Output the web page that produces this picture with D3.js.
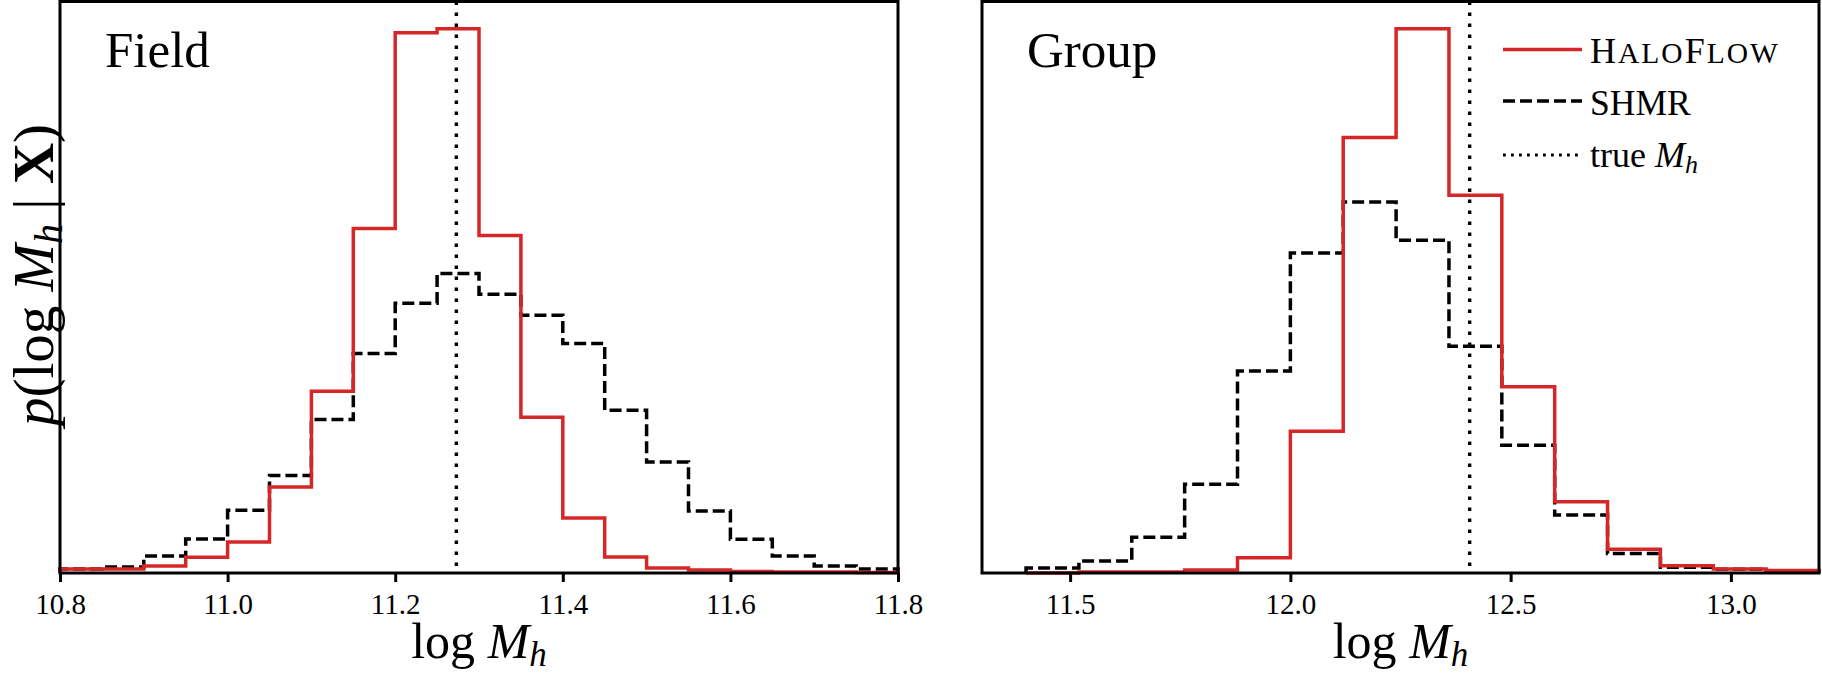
<!DOCTYPE html>
<html>
<head>
<meta charset="utf-8">
<script src="https://cdn.jsdelivr.net/npm/d3@7"></script>
<style>
  body { margin: 0; background: #fff; }
  text { font-family: "Liberation Serif", "DejaVu Serif", serif; fill: #000; }
</style>
</head>
<body>
<div id="chart"></div>
<script>
// bin edges and heights (normalised densities)
var fieldEdges = [10.80, 10.85, 10.90, 10.95, 11.00, 11.05, 11.10, 11.15, 11.20, 11.25, 11.30,
                  11.35, 11.40, 11.45, 11.50, 11.55, 11.60, 11.65, 11.70, 11.75, 11.80]
var fieldHaloFlow = [0.034, 0.034, 0.060, 0.134, 0.265, 0.735, 1.556, 2.949, 4.624, 4.658,
                     2.889, 1.333, 0.470, 0.137, 0.043, 0.026, 0.013, 0.009, 0.009, 0.004]
var fieldSHMR = [0.034, 0.051, 0.145, 0.291, 0.536, 0.835, 1.314, 1.878, 2.308, 2.564,
                 2.385, 2.205, 1.963, 1.393, 0.949, 0.530, 0.288, 0.145, 0.060, 0.034]
var fieldTrue = 11.273
var fieldTicks = [10.8, 11.0, 11.2, 11.4, 11.6, 11.8]

var groupEdges = [11.40, 11.52, 11.64, 11.76, 11.88, 12.00, 12.12, 12.24, 12.36, 12.48,
                  12.60, 12.72, 12.84, 12.96, 13.08, 13.20]
var groupHaloFlow = [0, 0.005, 0.005, 0.014, 0.070, 0.651, 1.999, 2.499, 1.734, 0.855,
                     0.327, 0.109, 0.033, 0.018, 0.011]
var groupSHMR = [0.023, 0.055, 0.164, 0.408, 0.928, 1.469, 1.703, 1.528, 1.041, 0.587,
                 0.266, 0.090, 0.026, 0.017, 0.009]
var groupTrue = 12.407
var groupTicks = [11.5, 12.0, 12.5, 13.0]

var panels = [
    { name: "Field", left: 60, right: 898, xdom: [10.8, 11.8], edges: fieldEdges,
      hf: fieldHaloFlow, shmr: fieldSHMR, truth: fieldTrue, ticks: fieldTicks },
    { name: "Group", left: 982, right: 1819, xdom: [11.3, 13.2], edges: groupEdges,
      hf: groupHaloFlow, shmr: groupSHMR, truth: groupTrue, ticks: groupTicks }
]

var plotTop = 1.5, plotBottom = 573
var red = "#d62728"
var dash = "12,5"

var svg = d3.select("#chart").append("svg")
    .attr("width", 1822)
    .attr("height", 673)

function stepPoints(edges, vals) {
    var pts = [[edges[0], 0]]
    vals.forEach(function (v, i) {
        pts.push([edges[i], v])
        pts.push([edges[i + 1], v])
    })
    pts.push([edges[edges.length - 1], 0])
    return pts
}

panels.forEach(function (p) {
    var x = d3.scaleLinear().domain(p.xdom).range([p.left, p.right])
    var ymax = 1.05 * d3.max(p.hf.concat(p.shmr))
    var y = d3.scaleLinear().domain([0, ymax]).range([plotBottom, plotTop])

    var line = d3.line()
        .x(function (d) { return x(d[0]) })
        .y(function (d) { return y(d[1]) })

    var g = svg.append("g")

    // SHMR dashed
    g.append("path")
        .attr("d", line(stepPoints(p.edges, p.shmr)))
        .attr("fill", "none")
        .attr("stroke", "#000")
        .attr("stroke-width", 3.5)
        .attr("stroke-dasharray", dash)

    // HaloFlow red
    g.append("path")
        .attr("d", line(stepPoints(p.edges, p.hf)))
        .attr("fill", "none")
        .attr("stroke", red)
        .attr("stroke-width", 3.5)

    // true Mh
    g.append("line")
        .attr("x1", x(p.truth)).attr("x2", x(p.truth))
        .attr("y1", plotTop).attr("y2", plotBottom)
        .attr("stroke", "#000")
        .attr("stroke-width", 3.4)
        .attr("stroke-dasharray", "3.4,7.6")

    // x axis ticks
    var ax = g.append("g")
        .attr("transform", "translate(0," + plotBottom + ")")
        .call(d3.axisBottom(x).tickValues(p.ticks).tickFormat(d3.format(".1f"))
            .tickSize(9).tickPadding(11))
    ax.attr("font-size", 29).attr("font-family", "Liberation Serif")
    ax.select(".domain").remove()
    ax.selectAll(".tick line").attr("stroke", "#000").attr("stroke-width", 3)
    ax.selectAll(".tick text").attr("fill", "#000")

    // frame
    g.append("rect")
        .attr("x", p.left).attr("y", plotTop)
        .attr("width", p.right - p.left).attr("height", plotBottom - plotTop)
        .attr("fill", "none")
        .attr("stroke", "#000")
        .attr("stroke-width", 3)

    // panel name
    g.append("text")
        .attr("x", p.left + 45)
        .attr("y", 66.5)
        .attr("font-size", 51)
        .text(p.name)

    // x label
    var xl = g.append("text")
        .attr("x", (p.left + p.right) / 2)
        .attr("y", 658)
        .attr("text-anchor", "middle")
        .attr("font-size", 50)
    xl.append("tspan").text("log ")
    xl.append("tspan").attr("font-style", "italic").text("M")
    xl.append("tspan").attr("font-style", "italic").attr("font-size", 35).attr("dy", 8).text("h")
})

// y label
var yl = svg.append("text")
    .attr("transform", "translate(53,275) rotate(-90)")
    .attr("text-anchor", "middle")
    .attr("font-size", 57)
yl.append("tspan").attr("font-style", "italic").text("p")
yl.append("tspan").text("(log ")
yl.append("tspan").attr("font-style", "italic").text("M")
yl.append("tspan").attr("font-style", "italic").attr("font-size", 40).attr("dy", 9).text("h")
yl.append("tspan").attr("dy", -9).text(" | ")
yl.append("tspan").attr("font-weight", "bold").text("X")
yl.append("tspan").text(")")

// legend (right panel)
var leg = svg.append("g")
var lx1 = 1503, lx2 = 1582, tx = 1590
leg.append("line").attr("x1", lx1).attr("x2", lx2).attr("y1", 49.5).attr("y2", 49.5)
    .attr("stroke", red).attr("stroke-width", 3.5)
leg.append("line").attr("x1", lx1).attr("x2", lx2).attr("y1", 101).attr("y2", 101)
    .attr("stroke", "#000").attr("stroke-width", 3.5).attr("stroke-dasharray", dash)
leg.append("line").attr("x1", lx1).attr("x2", lx2).attr("y1", 155).attr("y2", 155)
    .attr("stroke", "#000").attr("stroke-width", 2.8).attr("stroke-dasharray", "2.8,5.2")

var t1 = leg.append("text").attr("x", tx).attr("y", 62.5).attr("font-size", 36)
    .attr("letter-spacing", 2)
t1.append("tspan").text("H")
t1.append("tspan").attr("font-size", 29.5).text("ALO")
t1.append("tspan").text("F")
t1.append("tspan").attr("font-size", 29.5).text("LOW")

leg.append("text").attr("x", tx).attr("y", 114.5).attr("font-size", 35.5).text("SHMR")

var t3 = leg.append("text").attr("x", tx).attr("y", 166.5).attr("font-size", 36)
t3.append("tspan").text("true ")
t3.append("tspan").attr("font-style", "italic").text("M")
t3.append("tspan").attr("font-style", "italic").attr("font-size", 26).attr("dy", 6).text("h")
</script>
</body>
</html>
